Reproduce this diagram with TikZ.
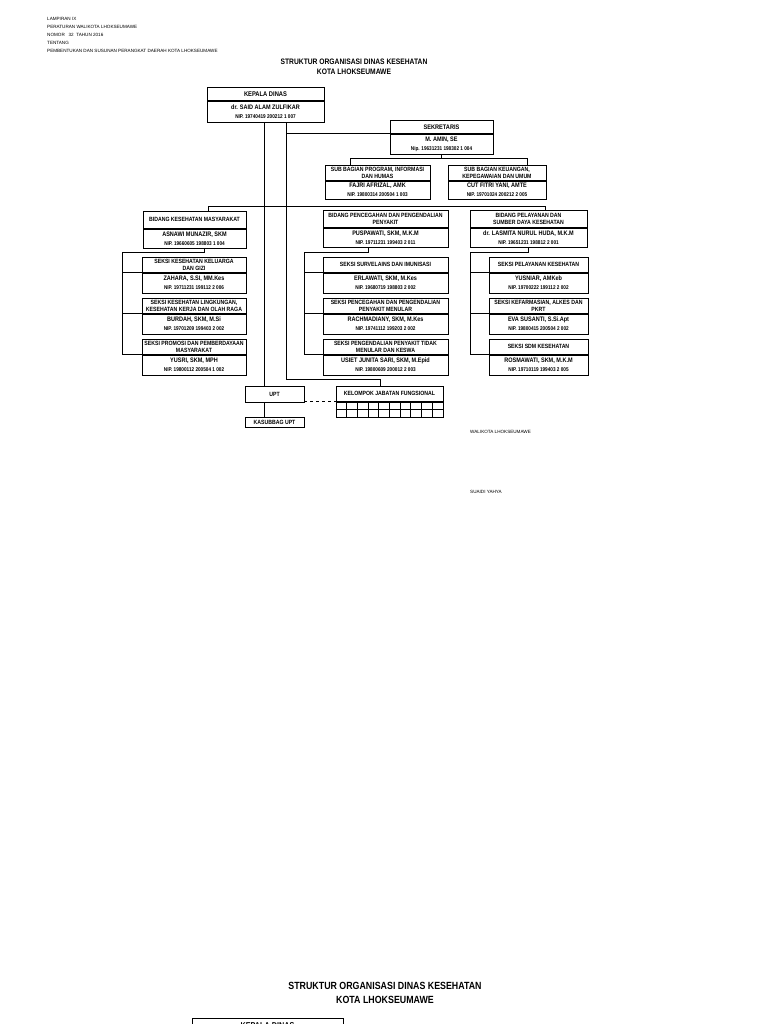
\documentclass[tikz,border=0pt]{standalone}
\usepackage{fontspec}
\setmainfont{Liberation Sans}
\newfontfamily\narrowsf[FakeStretch=0.85]{Liberation Sans}
\usetikzlibrary{calc}

\newcommand\nip{\fontsize{5.5}{9}\selectfont}

\tikzset{
  jabatan/.style={draw, line width=0.6pt, inner sep=0pt, align=center, anchor=north,
    font=\narrowsf\bfseries\fontsize{6.1}{6.4}\selectfont},
  pejabat/.style={draw, line width=0.6pt, inner sep=0pt, align=center, anchor=north,
    font=\narrowsf\bfseries\fontsize{6.5}{9}\selectfont},
  catatan/.style={inner sep=0pt, anchor=west, font=\fontsize{4.6}{5}\selectfont},
  judul/.style={inner sep=0pt, align=center, font=\narrowsf\bfseries\fontsize{7.9}{10}\selectfont},
  garis/.style={line width=0.6pt},
}

\begin{document}
\begin{tikzpicture}[x=1pt, y=-1pt]
    \path[fill=white] (0,0) rectangle (768,1024);
    \useasboundingbox (0,0) rectangle (768,1024);

    % lampiran
    \node[catatan] (lamp1) at (47,19) {LAMPIRAN IX};
    \node[catatan] (lamp2) at (47,27) {PERATURAN WALIKOTA LHOKSEUMAWE};
    \node[catatan] (lamp3) at (47,35) {NOMOR\ \ \ 32\ \ TAHUN 2016};
    \node[catatan] (lamp4) at (47,43) {TENTANG};
    \node[catatan] (lamp5) at (47,51) {PEMBENTUKAN DAN SUSUNAN PERANGKAT DAERAH KOTA LHOKSEUMAWE};

    % judul
    \node[judul] (judul) at (354,67) {STRUKTUR ORGANISASI DINAS KESEHATAN\\KOTA LHOKSEUMAWE};

    % kepala dinas & sekretaris
    \node[jabatan, minimum width=117pt, minimum height=13pt, font=\narrowsf\bfseries\fontsize{6.8}{7}\selectfont] (kadis-h) at (265.5,87) {KEPALA DINAS};
    \node[pejabat, minimum width=117pt, minimum height=21pt] (kadis) at (kadis-h.south) {dr. SAID ALAM ZULFIKAR\\\nip NIP. 19740419 200212 1 007};
    \node[jabatan, minimum width=103pt, minimum height=13pt, font=\narrowsf\bfseries\fontsize{6.6}{7}\selectfont] (sekre-h) at (441.5,120) {SEKRETARIS};
    \node[pejabat, minimum width=103pt, minimum height=20pt] (sekre) at (sekre-h.south) {M. AMIN, SE\\\nip Nip. 19631231 198302 1 004};

    % sub bagian
    \node[jabatan, minimum width=105pt, minimum height=15pt] (subprog-h) at (377.5,165) {SUB BAGIAN PROGRAM, INFORMASI\\DAN HUMAS};
    \node[pejabat, minimum width=105pt, minimum height=18pt] (subprog) at (subprog-h.south) {FAJRI AFRIZAL, AMK\\\nip NIP. 19800314 200504 1 003};
    \node[jabatan, minimum width=98pt, minimum height=15pt] (subkeu-h) at (497,165) {SUB BAGIAN KEUANGAN,\\KEPEGAWAIAN DAN UMUM};
    \node[pejabat, minimum width=98pt, minimum height=18pt] (subkeu) at (subkeu-h.south) {CUT FITRI YANI, AMTE\\\nip NIP. 19701024 200212 2 005};

    % bidang
    \node[jabatan, minimum width=103pt, minimum height=17pt] (kesmas-h) at (194.5,211) {BIDANG KESEHATAN MASYARAKAT};
    \node[pejabat, minimum width=103pt, minimum height=19pt] (kesmas) at (kesmas-h.south) {ASNAWI MUNAZIR, SKM\\\nip NIP. 19660605 198803 1 004};
    \node[jabatan, minimum width=125pt, minimum height=17pt] (p2p-h) at (385.5,210) {BIDANG PENCEGAHAN DAN PENGENDALIAN\\PENYAKIT};
    \node[pejabat, minimum width=125pt, minimum height=19pt] (p2p) at (p2p-h.south) {PUSPAWATI, SKM, M.K.M\\\nip NIP. 19711231 199403 2 011};
    \node[jabatan, minimum width=117pt, minimum height=17pt] (yankes-h) at (528.5,210) {BIDANG PELAYANAN DAN\\SUMBER DAYA KESEHATAN};
    \node[pejabat, minimum width=117pt, minimum height=19pt] (yankes) at (yankes-h.south) {dr. LASMITA NURUL HUDA, M.K.M\\\nip NIP. 19651231 198812 2 001};

    % seksi bidang kesehatan masyarakat
    \node[jabatan, minimum width=104pt, minimum height=15pt] (sk11-h) at (194,257) {SEKSI KESEHATAN KELUARGA\\DAN GIZI};
    \node[pejabat, minimum width=104pt, minimum height=20pt] (sk11) at (sk11-h.south) {ZAHARA, S.SI, MM.Kes\\\nip NIP. 19711231 199112 2 006};
    \node[jabatan, minimum width=104pt, minimum height=15pt] (sk12-h) at (194,298) {SEKSI KESEHATAN LINGKUNGAN,\\KESEHATAN KERJA DAN OLAH RAGA};
    \node[pejabat, minimum width=104pt, minimum height=20pt] (sk12) at (sk12-h.south) {BURDAH, SKM, M.Si\\\nip NIP. 19701209 199403 2 002};
    \node[jabatan, minimum width=104pt, minimum height=15pt] (sk13-h) at (194,339) {SEKSI PROMOSI DAN PEMBERDAYAAN\\MASYARAKAT};
    \node[pejabat, minimum width=104pt, minimum height=20pt] (sk13) at (sk13-h.south) {YUSRI, SKM, MPH\\\nip NIP. 19800112 200504 1 002};

    % seksi bidang pencegahan dan pengendalian penyakit
    \node[jabatan, minimum width=125pt, minimum height=15pt] (sk21-h) at (385.5,257) {SEKSI SURVELAINS DAN IMUNISASI};
    \node[pejabat, minimum width=125pt, minimum height=20pt] (sk21) at (sk21-h.south) {ERLAWATI, SKM, M.Kes\\\nip NIP. 19680719 198803 2 002};
    \node[jabatan, minimum width=125pt, minimum height=15pt] (sk22-h) at (385.5,298) {SEKSI PENCEGAHAN DAN PENGENDALIAN\\PENYAKIT MENULAR};
    \node[pejabat, minimum width=125pt, minimum height=20pt] (sk22) at (sk22-h.south) {RACHMADIANY, SKM, M.Kes\\\nip NIP. 19741112 199203 2 002};
    \node[jabatan, minimum width=125pt, minimum height=15pt] (sk23-h) at (385.5,339) {SEKSI PENGENDALIAN PENYAKIT TIDAK\\MENULAR DAN KESWA};
    \node[pejabat, minimum width=125pt, minimum height=20pt] (sk23) at (sk23-h.south) {USIET JUNITA SARI, SKM, M.Epid\\\nip NIP. 19800609 200012 2 003};

    % seksi bidang pelayanan dan sumber daya kesehatan
    \node[jabatan, minimum width=99pt, minimum height=15pt] (sk31-h) at (538.5,257) {SEKSI PELAYANAN KESEHATAN};
    \node[pejabat, minimum width=99pt, minimum height=20pt] (sk31) at (sk31-h.south) {YUSNIAR, AMKeb\\\nip NIP. 19700222 199112 2 002};
    \node[jabatan, minimum width=99pt, minimum height=15pt] (sk32-h) at (538.5,298) {SEKSI KEFARMASIAN, ALKES DAN\\PKRT};
    \node[pejabat, minimum width=99pt, minimum height=20pt] (sk32) at (sk32-h.south) {EVA SUSANTI, S.Si.Apt\\\nip NIP. 19800415 200504 2 002};
    \node[jabatan, minimum width=99pt, minimum height=15pt] (sk33-h) at (538.5,339) {SEKSI SDM KESEHATAN};
    \node[pejabat, minimum width=99pt, minimum height=20pt] (sk33) at (sk33-h.south) {ROSMAWATI, SKM, M.K.M\\\nip NIP. 19710119 199403 2 005};

    % UPT & jabatan fungsional
    \node[jabatan, minimum width=59pt, minimum height=16pt] (upt) at (274.5,386) {UPT};
    \node[jabatan, minimum width=59pt, minimum height=10pt] (kasub) at (274.5,417) {KASUBBAG UPT};
    \node[jabatan, minimum width=107pt, minimum height=15pt] (jf-h) at (389.5,386) {KELOMPOK JABATAN FUNGSIONAL};
    \node[jabatan, minimum width=107pt, minimum height=15pt] (jf) at (jf-h.south) {};
    \draw[garis] (jf.west) -- (jf.east);
    \foreach \i in {1,...,9}
        \draw[garis] ($(jf.north west)+(\i*10.7,0)$) -- ($(jf.south west)+(\i*10.7,0)$);

    % garis komando
    \coordinate (trunkA) at (264,0);
    \coordinate (trunkB) at (286,0);
    \coordinate (jfdrop) at (380,379);
    \draw[garis] (kadis.south -| trunkA) -- (upt.north -| trunkA);
    \draw[garis] (upt.south -| trunkA) -- (kasub.north -| trunkA);
    \draw[garis] (kadis.south -| trunkB) |- (jfdrop) -- (jf-h.north -| jfdrop);
    \draw[garis, dashed] (jf.north west -| upt.east) -- (jf.north west);
    \draw[garis] (sekre-h.south west -| trunkB) -- (sekre-h.south west);

    \coordinate (subL) at (350,158);
    \coordinate (subR) at (527,158);
    \draw[garis] (sekre.south) |- (subL) -- (subprog-h.north -| subL);
    \draw[garis] (sekre.south) |- (subR) -- (subkeu-h.north -| subR);

    \coordinate (busL) at (208,206);
    \coordinate (busR) at (545,206);
    \draw[garis] (kesmas-h.north -| busL) |- (busR) -- (yankes-h.north -| busR);

    \coordinate (kesmas-bus) at (122,252);
    \coordinate (p2p-bus) at (304,252);
    \coordinate (yankes-bus) at (470,252);
    \draw[garis] ($(kesmas.south)+(10,0)$) |- (kesmas-bus) |- (sk13-h.south west);
    \draw[garis] ($(p2p.south)+(-17.5,0)$) |- (p2p-bus) |- (sk23-h.south west);
    \draw[garis] (yankes.south) |- (yankes-bus) |- (sk33-h.south west);
    \foreach \s in {sk11,sk12}
        \draw[garis] (kesmas-bus |- \s-h.south west) -- (\s-h.south west);
    \foreach \s in {sk21,sk22}
        \draw[garis] (p2p-bus |- \s-h.south west) -- (\s-h.south west);
    \foreach \s in {sk31,sk32}
        \draw[garis] (yankes-bus |- \s-h.south west) -- (\s-h.south west);

    % tanda tangan
    \node[catatan] (walikota) at (470,432) {WALIKOTA LHOKSEUMAWE};
    \node[catatan] (nama) at (470,492) {SUAIDI YAHYA};

    % halaman berikutnya
    \node[judul, font=\narrowsf\bfseries\fontsize{10.4}{13.5}\selectfont] (judul2) at (385,993) {STRUKTUR ORGANISASI DINAS KESEHATAN\\KOTA LHOKSEUMAWE};
    \node[jabatan, minimum width=151pt, minimum height=14pt, font=\narrowsf\bfseries\fontsize{8.5}{9}\selectfont] (kadis2-h) at (267.5,1018) {KEPALA DINAS};
\end{tikzpicture}
\end{document}
